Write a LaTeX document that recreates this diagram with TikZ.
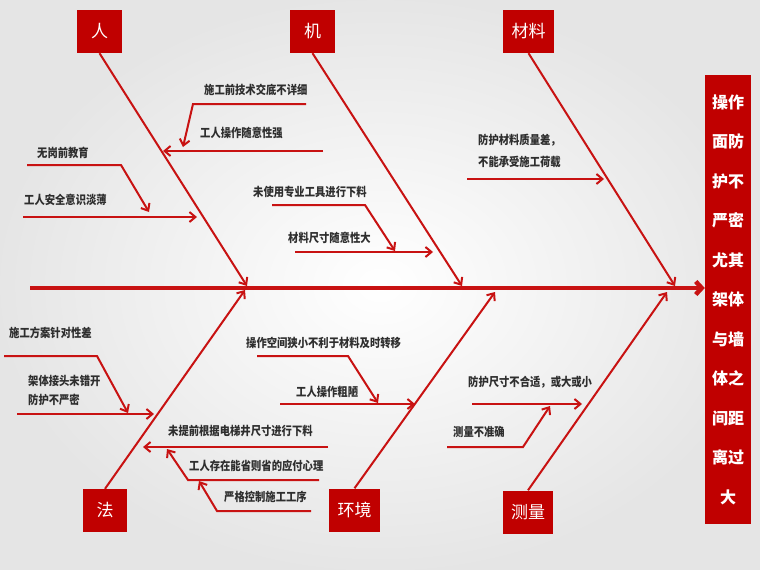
\documentclass[tikz,border=0pt]{standalone}
\usepackage{fontspec}
\setmainfont{Noto Sans CJK SC}
\newfontfamily\lblfont[FakeStretch=0.86]{Noto Sans CJK SC}
\usetikzlibrary{arrows.meta}
\definecolor{boxred}{RGB}{192,0,0}
\definecolor{linered}{RGB}{200,18,18}
\begin{document}
\begin{tikzpicture}[x=1pt,y=-1pt,
  cat/.style={fill=boxred,text=white,minimum height=43pt,inner sep=0pt,font=\fontsize{17}{17}\selectfont},
  lbl/.style={anchor=west,inner sep=0pt,font=\lblfont\fontsize{12}{12}\selectfont\bfseries,text=black!82},
  bone/.style={draw=linered,line width=2pt,-{Straight Barb[length=6pt,width=10pt]}},
  sub/.style={draw=linered,line width=2pt,-{Straight Barb[length=6pt,width=10pt]}},
  spine/.style={draw=linered,line width=4.5pt,-{Straight Barb[length=6pt,width=13pt]}},
]
\useasboundingbox (0,0) rectangle (760,570);
\shade[inner color=white,outer color=black!10] (0,0) rectangle (760,570);

% effect box
\node[fill=boxred,text=white,minimum width=46pt,minimum height=449pt,inner sep=0pt,
      align=center,font=\fontsize{16}{39.5}\selectfont\bfseries] (eff) at (728,299.5)
  {操作\\面防\\护不\\严密\\尤其\\架体\\与墙\\体之\\间距\\离过\\大};

% category boxes
\node[cat,minimum width=45pt] (ren) at (99.5,31.5) {人};
\node[cat,minimum width=45pt] (ji) at (312.5,31.5) {机};
\node[cat,minimum width=51pt] (cail) at (528.5,31.5) {材料};
\node[cat,minimum width=44pt] (fa) at (105,510.5) {法};
\node[cat,minimum width=51pt] (hj) at (354.5,510) {环境};
\node[cat,minimum width=50pt] (cel) at (528,512) {测量};

% spine
\coordinate (sp0) at (30,288);
\draw[spine] (sp0) -- (sp0 -| eff.west);

% main bones
\coordinate (renE) at (247,286);
\coordinate (jiE) at (462,286);
\coordinate (cailE) at (675,286);
\coordinate (faE) at (245,290);
\coordinate (hjE) at (495,292);
\coordinate (celE) at (667,292);
\draw[bone] (ren.south) -- (renE);
\draw[bone] (ji.south) -- (jiE);
\draw[bone] (cail.south) -- (cailE);
\draw[bone] (fa.north) -- (faE);
\draw[bone] (hj.north) -- (hjE);
\draw[bone] (cel.north) -- (celE);

% labels
\node[lbl] (t1) at (204,90) {施工前技术交底不详细};
\node[lbl] (t2) at (200,133) {工人操作随意性强};
\node[lbl] (t3) at (37,153) {无岗前教育};
\node[lbl] (t4) at (24,200) {工人安全意识淡薄};
\node[lbl] (t5) at (253,192) {未使用专业工具进行下料};
\node[lbl] (t6) at (288,238) {材料尺寸随意性大};
\node[lbl,align=left,font=\lblfont\fontsize{12}{22}\selectfont\bfseries] (t7) at (478,151) {防护材料质量差，\\不能承受施工荷载};
\node[lbl] (t8) at (9,333) {施工方案针对性差};
\node[lbl,align=left,font=\lblfont\fontsize{12}{19}\selectfont\bfseries] (t9) at (28,390.5) {架体接头未错开\\防护不严密};
\node[lbl] (t10) at (168,431) {未提前根据电梯井尺寸进行下料};
\node[lbl] (t11) at (189,466) {工人存在能省则省的应付心理};
\node[lbl] (t12) at (224,497) {严格控制施工工序};
\node[lbl] (t13) at (246,343) {操作空间狭小不利于材料及时转移};
\node[lbl] (t14) at (296,392) {工人操作粗陋};
\node[lbl] (t15) at (468,382) {防护尺寸不合适，或大或小};
\node[lbl] (t16) at (453,432) {测量不准确};

% sub-branch coordinates
\coordinate (a1) at (306,104); \coordinate (b1) at (193,104); \coordinate (e1) at (183,147);
\coordinate (a2) at (323,151); \coordinate (e2) at (163,151);
\coordinate (a3) at (27,165);  \coordinate (b3) at (121,165); \coordinate (e3) at (149,212);
\coordinate (a4) at (23,217);  \coordinate (e4) at (197,217);
\coordinate (a5) at (272,205); \coordinate (b5) at (365,205); \coordinate (e5) at (395,251);
\coordinate (a6) at (295,252); \coordinate (e6) at (433,252);
\coordinate (a7) at (467,179); \coordinate (e7) at (604,179);
\coordinate (a8) at (4,356);   \coordinate (b8) at (97,356);  \coordinate (e8) at (128,413);
\coordinate (a9) at (17,414);  \coordinate (e9) at (154,414);
\coordinate (a10) at (328,447); \coordinate (e10) at (143,447);
\coordinate (a11) at (319,480); \coordinate (b11) at (188,480); \coordinate (e11) at (167,449);
\coordinate (a12) at (311,511); \coordinate (b12) at (217,511); \coordinate (e12) at (199,481);
\coordinate (a13) at (257,356); \coordinate (b13) at (348,356); \coordinate (e13) at (378,403);
\coordinate (a14) at (280,404); \coordinate (e14) at (415,404);
\coordinate (a15) at (472,404); \coordinate (e15) at (582,404);
\coordinate (a16) at (447,447); \coordinate (b16) at (523,447); \coordinate (e16) at (550,406);

\draw[sub] (a1) -- (b1) -- (e1);
\draw[sub] (a2) -- (e2);
\draw[sub] (a3) -- (b3) -- (e3);
\draw[sub] (a4) -- (e4);
\draw[sub] (a5) -- (b5) -- (e5);
\draw[sub] (a6) -- (e6);
\draw[sub] (a7) -- (e7);
\draw[sub] (a8) -- (b8) -- (e8);
\draw[sub] (a9) -- (e9);
\draw[sub] (a10) -- (e10);
\draw[sub] (a11) -- (b11) -- (e11);
\draw[sub] (a12) -- (b12) -- (e12);
\draw[sub] (a13) -- (b13) -- (e13);
\draw[sub] (a14) -- (e14);
\draw[sub] (a15) -- (e15);
\draw[sub] (a16) -- (b16) -- (e16);
\end{tikzpicture}
\end{document}
